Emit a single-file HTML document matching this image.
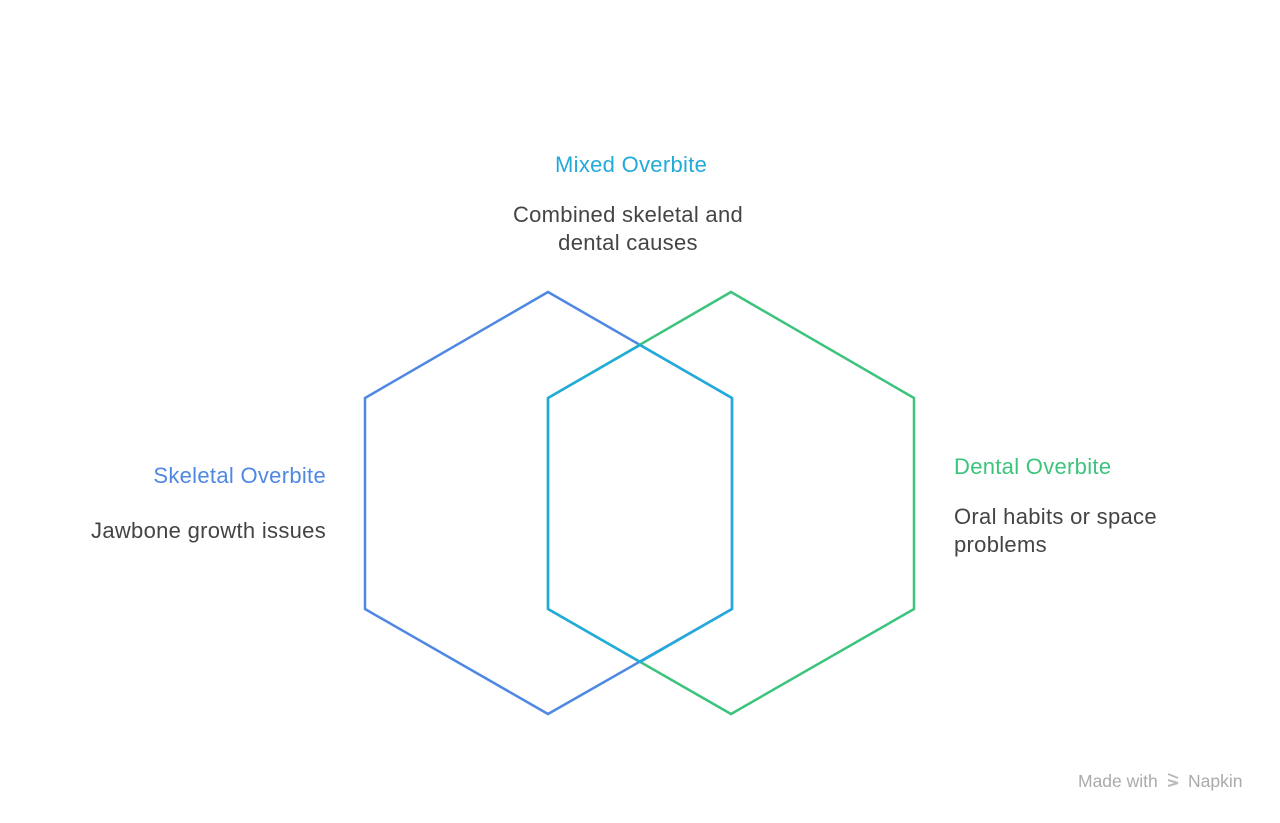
<!DOCTYPE html>
<html><head><meta charset="utf-8"><style>
body{margin:0;width:1280px;height:823px;background:#fff;overflow:hidden;font-family:"Liberation Sans",sans-serif;}
svg{position:absolute;left:0;top:0}
.t{position:absolute;font-size:22px;letter-spacing:0.3px;white-space:nowrap}
.d{position:absolute;font-size:22px;letter-spacing:0.3px;color:#444;line-height:28px;white-space:nowrap}
</style></head><body>
<svg width="1280" height="823">
<polygon points="548,292 732,398 732,609 548,714 365,609 365,398" fill="none" stroke="#4f88e3" stroke-width="2.5"/>
<polygon points="731,292 914,398 914,609 731,714 548,609 548,398" fill="none" stroke="#3cc47c" stroke-width="2.5"/>
<polygon points="640,345 732,398 732,609 640,662 548,609 548,398" fill="none" stroke="#22aadb" stroke-width="2.5"/>
<g fill="none" stroke="#bbb" stroke-width="2"><path d="M1168 774l10 4M1168 780l10 3M1168 786l10-3"/></g>
</svg>
<div class="t" style="left:555px;top:152px;color:#22aadb">Mixed Overbite</div>
<div class="d" style="left:478px;top:201px;text-align:center;width:300px">Combined skeletal and<br>dental causes</div>
<div class="t" style="right:954px;top:463px;color:#4f88e3">Skeletal Overbite</div>
<div class="d" style="right:954px;top:517px">Jawbone growth issues</div>
<div class="t" style="left:954px;top:454px;color:#3cc47c">Dental Overbite</div>
<div class="d" style="left:954px;top:503px">Oral habits or space<br>problems</div>
<div style="position:absolute;left:1078px;top:771px;font-size:17.5px;color:#aaa">Made with</div>
<div style="position:absolute;left:1188px;top:771px;font-size:17.5px;color:#aaa">Napkin</div>
</body></html>
